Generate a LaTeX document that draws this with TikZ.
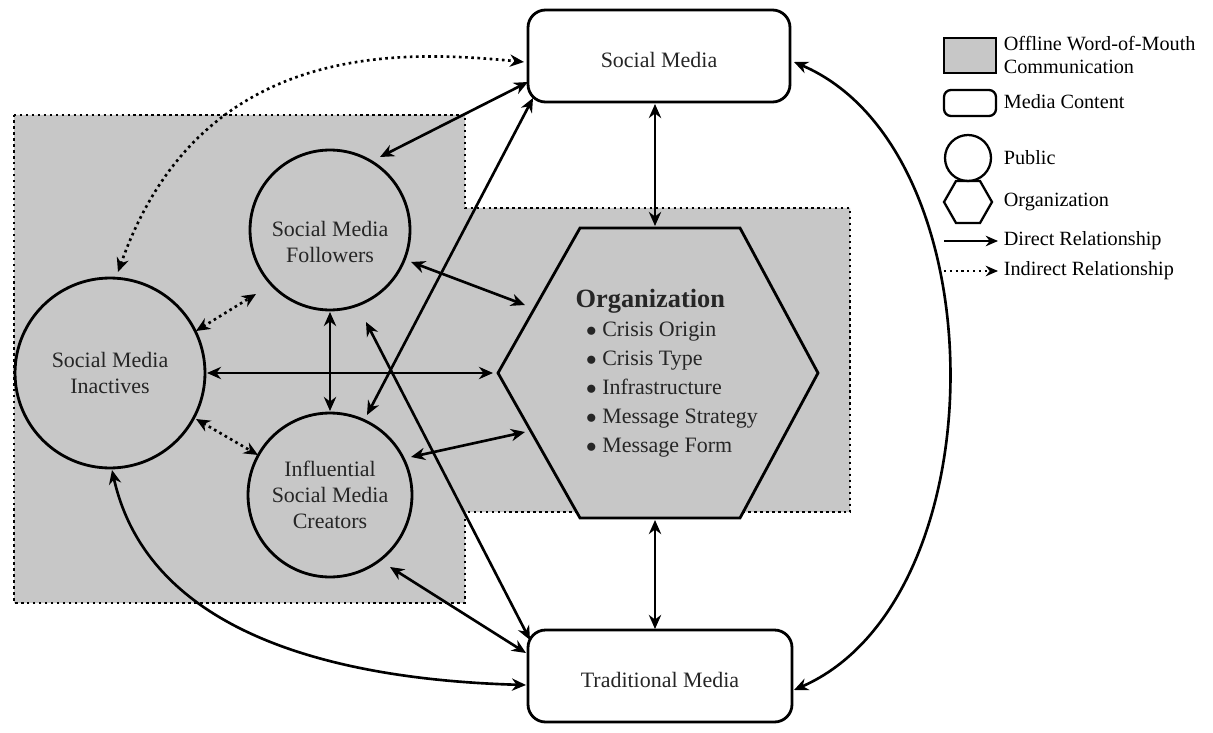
\documentclass[tikz,border=0pt]{standalone}
\usepackage{fontspec}
\setmainfont{Liberation Serif}
\usetikzlibrary{arrows.meta,shapes.geometric}
\begin{document}
\begin{tikzpicture}[x=0.02cm,y=-0.02cm,
  tip/.style={line width=1.5pt,{Stealth[length=8pt,width=7pt]}-{Stealth[length=8pt,width=7pt]}},
  dtip/.style={tip,dotted},
  media/.style={draw,line width=1.6pt,rounded corners=10pt,fill=white},
  pub/.style={draw,line width=1.6pt,circle,inner sep=0pt,align=center,font=\fontsize{12.5}{15}\selectfont,text=black!85},
  lbl/.style={font=\fontsize{12.5}{15}\selectfont,align=center,text=black!85},
  leg/.style={anchor=west,font=\fontsize{11.5}{13}\selectfont,align=left,inner sep=2pt}]
\useasboundingbox (0,0) rectangle (1213,733);
% gray region
\draw[fill=black!22,dotted,line width=1.4pt] (14,115) -- (465,115) -- (465,208) -- (850,208) -- (850,512) -- (465,512) -- (465,603) -- (14,603) -- cycle;
% hexagon
\draw[fill=black!22,line width=1.6pt] (498,373) -- (580,228) -- (740,228) -- (818,373) -- (740,518) -- (580,518) -- cycle;
\node[align=left,font=\fontsize{12.5}{16.5}\selectfont,text=black!85] (org) at (672,373) {\hspace*{-6pt}{\fontsize{15}{17}\selectfont\bfseries Organization}\\ $\bullet$ Crisis Origin\\ $\bullet$ Crisis Type\\ $\bullet$ Infrastructure\\ $\bullet$ Message Strategy\\ $\bullet$ Message Form};
% media
\draw[media] (528,10) rectangle (790,102);
\node[lbl] (sm) at (659,60) {Social Media};
\draw[media] (528,630) rectangle (792,722);
\node[lbl] (tm) at (660,680) {Traditional Media};
% circles
\node[pub,minimum size=3.2cm] (fol) at (330,230) {};
\node[lbl] (folt) at (330,242) {Social Media\\Followers};
\node[pub,minimum size=3.8cm] (ina) at (110,373) {Social Media\\Inactives};
\node[pub,minimum size=3.28cm] (cre) at (330,495) {Influential\\Social Media\\Creators};
% arrows
\draw[dtip] (118,272) .. controls (200,40) and (400,50) .. (524,62);
\draw[tip] (380,157) -- (528,82);
\draw[tip] (367,415) -- (533,98);
\draw[tip] (366,322) -- (530,640);
\draw[tip] (655,104) -- (655,226);
\draw[tip] (655,520) -- (655,629);
\draw[tip] (411,262) -- (525,305);
\draw[tip] (207,373) -- (493,373);
\draw[tip] (330,312) -- (330,411);
\draw[tip] (411,457) -- (525,432);
\draw[tip] (390,567) -- (526,653);
\draw[tip] (112,470) .. controls (150,640) and (350,680) .. (526,685);
\draw[tip] (794,62) .. controls (1000,150) and (1000,600) .. (794,690);
\draw[dtip] (196,331) -- (256,294);
\draw[dtip] (196,419) -- (258,455);
% legend
\draw[fill=black!22,line width=1.3pt] (944,38) rectangle (996,73);
\node[leg] (l1) at (1000,55) {Offline Word-of-Mouth\\Communication};
\draw[line width=1.3pt,rounded corners=4pt] (944,90) rectangle (996,116);
\node[leg] (l2) at (1000,102) {Media Content};
\draw[line width=1.3pt] (968,158) circle (23);
\node[leg] (l3) at (1000,158) {Public};
\draw[line width=1.3pt] (944,202) -- (956,181) -- (980,181) -- (992,202) -- (980,223) -- (956,223) -- cycle;
\node[leg] (l4) at (1000,202) {Organization};
\draw[line width=1.3pt,-{Stealth[length=7pt,width=6pt]}] (944,241) -- (998,241);
\node[leg] (l5) at (1000,241) {Direct Relationship};
\draw[line width=1.3pt,dotted,-{Stealth[length=7pt,width=6pt]}] (944,271) -- (998,271);
\node[leg] (l6) at (1000,271) {Indirect Relationship};
\end{tikzpicture}
\end{document}
